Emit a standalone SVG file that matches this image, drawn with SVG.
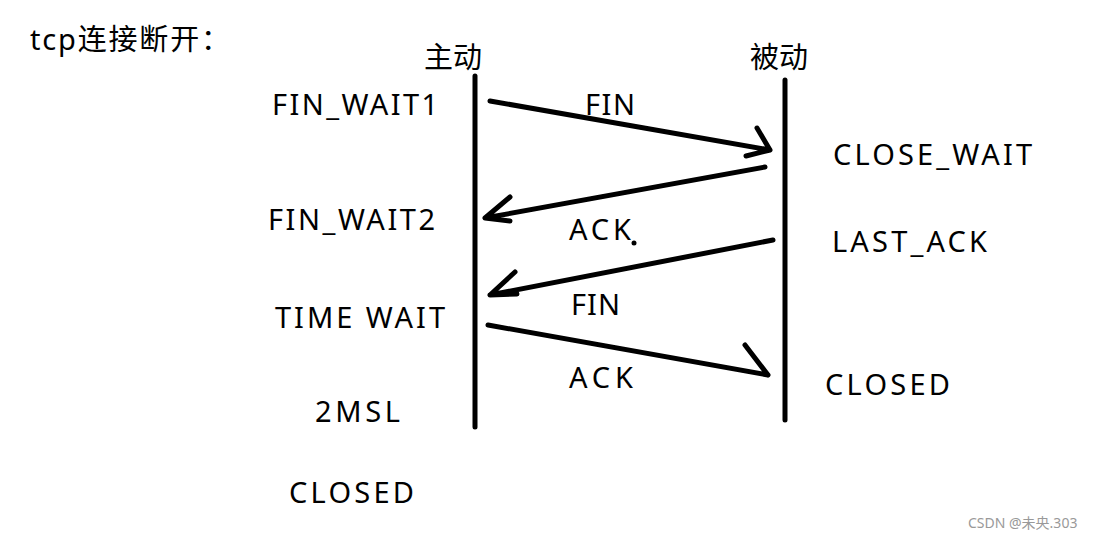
<svg xmlns="http://www.w3.org/2000/svg" width="1106" height="541" viewBox="0 0 1106 541">
<style>
text{font-family:"Noto Sans","Noto Sans CJK SC",sans-serif;font-size:29px;fill:#000}
.ln{stroke:#000;stroke-width:5;fill:none;stroke-linecap:round;stroke-linejoin:round}
.wm{font-size:14px;fill:#999}
</style>
<rect width="1106" height="541" fill="#fff"/>
<text x="30" y="50" textLength="200">tcp连接断开：</text>
<g id="active"><text x="424" y="68">主动</text><line class="ln" x1="475" y1="76" x2="475" y2="427"/></g>
<g id="passive"><text x="750" y="68">被动</text><line class="ln" x1="785" y1="80" x2="785" y2="420"/></g>
<g id="states">
<text x="272" y="115" textLength="166">FIN_WAIT1</text>
<text x="833" y="165" textLength="199">CLOSE_WAIT</text>
<text x="268" y="230" textLength="167">FIN_WAIT2</text>
<text x="832" y="252" textLength="155">LAST_ACK</text>
<text x="275" y="328" textLength="170">TIME WAIT</text>
<text x="315" y="422" textLength="85">2MSL</text>
<text x="289" y="503" textLength="125">CLOSED</text>
<text x="825" y="395" textLength="125">CLOSED</text>
</g>
<g id="connectors">
<path class="ln" d="M490,101 L770,150 M757,128 L770,150 L746,156"/>
<path class="ln" d="M765,167 L485,218 M510,197 L485,218 L510,221"/>
<path class="ln" d="M773,240 L490,295 M515,272 L490,295 L517,294"/>
<path class="ln" d="M488,325 L768,375 M745,345 L768,375"/>
<circle cx="634" cy="243" r="2.5" fill="#000"/>
<text x="585" y="115" textLength="50">FIN</text>
<text x="569" y="240" textLength="62">ACK</text>
<text x="571" y="315" textLength="49">FIN</text>
<text x="569" y="388" textLength="64">ACK</text>
</g>
<text class="wm" x="968" y="528">CSDN @未央.303</text>
</svg>
